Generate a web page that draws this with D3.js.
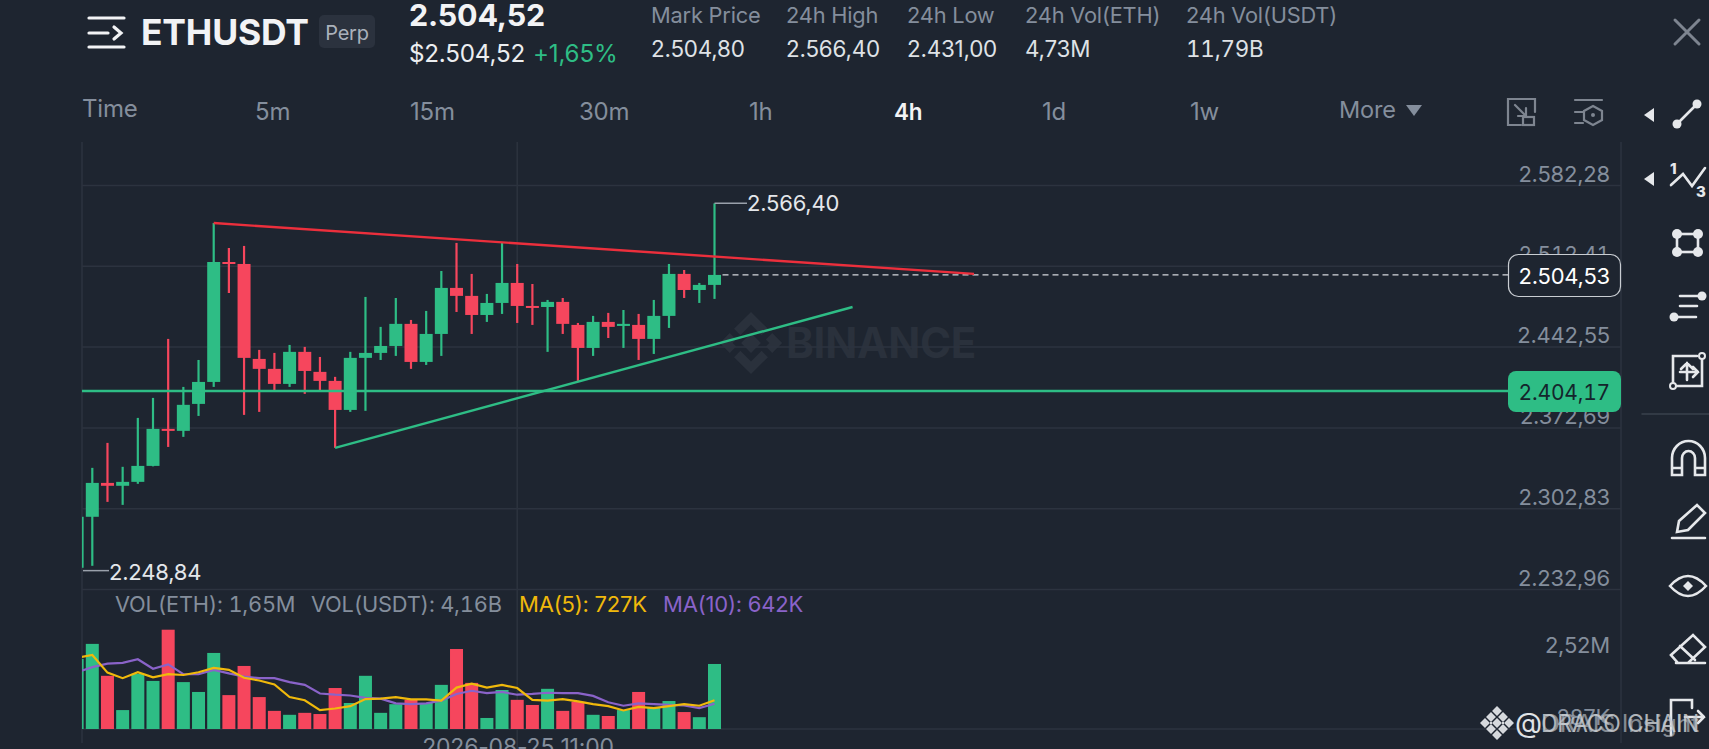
<!DOCTYPE html>
<html>
<head>
<meta charset="utf-8">
<script src="https://cdn.jsdelivr.net/npm/d3@7"></script>
<style>
  html, body { margin: 0; padding: 0; background: #1e2530; overflow: hidden; }
  svg { display: block; font-family: Inter, "Noto Sans", sans-serif; }
  text { letter-spacing: -0.2px; }
  .tn { font-variant-numeric: tabular-nums; }
</style>
</head>
<body>
<div id="container"></div>
<script>
const width = 1709,
  height = 749,
  bg = "#1e2530",
  green = "#2ebd85",
  red = "#f6465d",
  grey = "#848e9c",
  light = "#e4e7eb",
  gridColor = "#2c333f",
  left = 82,
  right = 1621;

// candles, index -1 is the one cut off by the left edge
const candleIdx = d3.range(-1, 42);
const opens = [2251.3, 2295.4, 2324.7, 2322.2, 2325.6, 2339.4, 2371.4, 2369.7, 2393.0, 2412.0, 2515.7, 2514.0, 2431.9, 2423.3, 2410.3, 2438.0, 2420.7, 2412.9, 2387.8, 2432.8, 2437.1, 2443.1, 2462.2, 2429.3, 2453.5, 2493.3, 2486.4, 2469.9, 2480.3, 2497.6, 2477.7, 2476.8, 2481.2, 2461.3, 2441.4, 2463.9, 2460.4, 2461.3, 2449.2, 2469.1, 2505.4, 2491.5, 2495.9];
const highs = [2296.0, 2337.7, 2359.3, 2338.6, 2380.9, 2398.2, 2449.2, 2407.7, 2431.0, 2549.4, 2527.8, 2529.6, 2439.7, 2437.1, 2444.0, 2442.3, 2433.6, 2416.4, 2438.0, 2485.5, 2459.6, 2484.6, 2465.6, 2473.4, 2507.9, 2532.2, 2505.4, 2488.1, 2532.2, 2514.0, 2496.7, 2482.9, 2484.6, 2463.0, 2469.1, 2471.7, 2474.2, 2470.8, 2482.9, 2514.0, 2508.8, 2497.6, 2566.4];
const lows = [2250.0, 2253.0, 2308.3, 2305.7, 2323.9, 2339.0, 2355.8, 2364.5, 2382.6, 2407.7, 2488.9, 2383.5, 2386.1, 2404.2, 2407.7, 2401.7, 2404.2, 2355.0, 2386.1, 2387.0, 2431.0, 2434.5, 2423.3, 2426.7, 2434.5, 2472.5, 2453.5, 2463.9, 2470.8, 2463.0, 2461.3, 2438.0, 2453.5, 2412.9, 2434.5, 2450.0, 2441.4, 2431.0, 2436.2, 2458.7, 2484.6, 2480.3, 2483.8];
const closes = [2295.4, 2324.7, 2322.2, 2325.6, 2339.4, 2371.4, 2369.7, 2392.2, 2412.0, 2515.7, 2514.0, 2432.8, 2423.3, 2410.3, 2438.0, 2421.5, 2412.9, 2387.8, 2432.8, 2437.1, 2443.1, 2462.2, 2429.3, 2453.5, 2493.3, 2486.4, 2469.9, 2480.3, 2497.6, 2477.7, 2476.0, 2481.2, 2462.2, 2441.4, 2463.9, 2459.6, 2462.2, 2449.2, 2469.1, 2505.4, 2491.5, 2495.9, 2504.53];

// volume in millions of ETH
const volumes = [1.78, 2.16, 1.35, 0.48, 1.40, 1.22, 2.52, 1.19, 0.94, 1.93, 0.86, 1.60, 0.81, 0.46, 0.36, 0.41, 0.38, 1.04, 0.66, 1.35, 0.41, 0.63, 0.74, 0.66, 1.12, 2.03, 1.17, 0.28, 0.99, 0.74, 0.61, 1.02, 0.46, 0.69, 0.36, 0.33, 0.48, 0.94, 0.56, 0.71, 0.43, 0.30, 1.65];
const ma5 = [1.81, 1.88, 1.43, 1.29, 1.44, 1.31, 1.39, 1.37, 1.44, 1.55, 1.50, 1.30, 1.23, 1.13, 0.81, 0.73, 0.48, 0.52, 0.58, 0.76, 0.77, 0.81, 0.75, 0.75, 0.72, 1.05, 1.15, 1.05, 1.12, 1.04, 0.74, 0.72, 0.76, 0.70, 0.63, 0.58, 0.47, 0.56, 0.53, 0.58, 0.63, 0.59, 0.73];
const ma10 = [1.44, 1.57, 1.66, 1.68, 1.77, 1.53, 1.64, 1.39, 1.39, 1.50, 1.41, 1.33, 1.29, 1.29, 1.19, 1.12, 0.90, 0.87, 0.85, 0.79, 0.77, 0.65, 0.63, 0.65, 0.72, 0.89, 0.97, 0.91, 0.94, 0.87, 0.89, 0.92, 0.91, 0.91, 0.84, 0.68, 0.59, 0.65, 0.63, 0.61, 0.60, 0.53, 0.64];

const priceTicks = [2582.28, 2512.41, 2442.55, 2372.69, 2302.83, 2232.96];
const priceLabels = ["2.582,28", "2.512,41", "2.442,55", "2.372,69", "2.302,83", "2.232,96"];

// hand drawn lines, [candle index, price]
const redTrend = [[8, 2549.4], [58.1, 2505.4]];
const greenTrend = [[16, 2355.0], [50.1, 2476.8]];
const supportPrice = 2404.17;
const lastPrice = 2504.53;
const highPrice = 2566.40;
const lowPrice = 2248.84;
const timeIdx = 28;

const statHeads = ["Mark Price", "24h High", "24h Low", "24h Vol(ETH)", "24h Vol(USDT)"];
const statValues = ["2.504,80", "2.566,40", "2.431,00", "4,73M", "11,79B"];
const intervals = ["5m", "15m", "30m", "1h", "4h", "1d", "1w"];

const xScale = d3.scaleLinear().domain([0, 41]).range([92.3, 714.5]);
const yScale = d3.scaleLinear().domain([priceTicks[0], priceTicks[5]]).range([185, 589]);
const volScale = d3.scaleLinear().domain([0, 2.52]).range([729, 629.7]);
const bodyW = 13;

const svg = d3.select("#container").append("svg")
  .attr("width", width)
  .attr("height", height)
  .style("background", bg);

function label(g, str, x, y, size, color, opts) {
  opts = opts || {};
  return g.append("text")
    .attr("class", opts.tn ? "tn" : null)
    .attr("x", x).attr("y", y)
    .attr("font-size", size)
    .attr("fill", color)
    .attr("font-weight", opts.weight || 400)
    .attr("text-anchor", opts.anchor || "start")
    .text(str);
}

svg.append("clipPath").attr("id", "plot")
  .append("rect").attr("x", left).attr("y", 142).attr("width", right - left).attr("height", height - 142);

/* ---- watermark ---- */
const mark = svg.append("g").attr("fill", "#2a313c");
const logoAt = [751, 343];
mark.append("g").attr("transform", `translate(${logoAt[0]},${logoAt[1]}) rotate(45)`)
  .selectAll("path")
  .data(["M-22 -22H2V-13H-13V2H-22Z", "M22 22H-2V13H13V-2H22Z", "M-7 -7H7V7H-7Z", "M8 -22H22V-8H13V-13H8Z", "M-8 22H-22V8H-13V13H-8Z"])
  .join("path").attr("d", d => d);
label(mark, "BINANCE", 786, 358, 42, "#2a313c", {weight: 700});

/* ---- grid and axes ---- */
const priceAxis = d3.axisLeft(yScale)
  .tickValues(priceTicks)
  .tickFormat((d, i) => priceLabels[i])
  .tickSize(right - left);
const axisG = svg.append("g")
  .attr("transform", `translate(${right},0)`)
  .call(priceAxis);
axisG.select(".domain").remove();
axisG.selectAll("line").attr("stroke", gridColor).attr("stroke-width", 1.5);
axisG.selectAll("text")
  .attr("x", -11).attr("dy", "-4px")
  .attr("fill", grey)
  .style("font-family", "Inter")
  .attr("font-size", 22);
axisG.selectAll("text")
  .filter((d, i) => priceLabels[i].includes("1"))
  .attr("class", "tn")
  .attr("font-size", 21);

svg.append("g").attr("stroke", gridColor).attr("stroke-width", 1.5)
  .selectAll("line")
  .data([left, xScale(timeIdx), right])
  .join("line")
  .attr("x1", d => d).attr("x2", d => d)
  .attr("y1", 142).attr("y2", (d, i) => i === 1 ? height : 743);
svg.append("line")
  .attr("x1", left).attr("x2", right)
  .attr("y1", volScale(0)).attr("y2", volScale(0))
  .attr("stroke", gridColor).attr("stroke-width", 1.5);

/* ---- candles ---- */
const plot = svg.append("g").attr("clip-path", "url(#plot)");
const candle = i => closes[i] >= opens[i] ? green : red;
const candles = plot.selectAll("g.candle")
  .data(candleIdx)
  .join("g")
  .attr("class", "candle");
candles.append("line")
  .attr("x1", d => xScale(d)).attr("x2", d => xScale(d))
  .attr("y1", (d, i) => yScale(highs[i]))
  .attr("y2", (d, i) => yScale(lows[i]))
  .attr("stroke", (d, i) => candle(i))
  .attr("stroke-width", 2.2);
candles.append("rect")
  .attr("x", d => xScale(d) - bodyW / 2)
  .attr("width", bodyW)
  .attr("y", (d, i) => yScale(Math.max(opens[i], closes[i])))
  .attr("height", (d, i) => Math.max(2, Math.abs(yScale(opens[i]) - yScale(closes[i]))))
  .attr("fill", (d, i) => candle(i));

/* ---- volume ---- */
plot.selectAll("rect.vol")
  .data(candleIdx)
  .join("rect")
  .attr("class", "vol")
  .attr("x", d => xScale(d) - bodyW / 2)
  .attr("width", bodyW)
  .attr("y", (d, i) => volScale(volumes[i]))
  .attr("height", (d, i) => volScale(0) - volScale(volumes[i]))
  .attr("fill", (d, i) => candle(i));

const maLine = d3.line().x((d, i) => xScale(candleIdx[i])).y(d => volScale(d));
plot.append("path").attr("d", maLine(ma10)).attr("fill", "none").attr("stroke", "#8a63c9").attr("stroke-width", 2.2);
plot.append("path").attr("d", maLine(ma5)).attr("fill", "none").attr("stroke", "#f0b90b").attr("stroke-width", 2.2);

/* ---- drawings ---- */
const trend = d3.line().x(d => xScale(d[0])).y(d => yScale(d[1]));
svg.append("path").attr("d", trend(greenTrend)).attr("stroke", green).attr("stroke-width", 2.4).attr("fill", "none");
svg.append("line")
  .attr("x1", left).attr("x2", 1508)
  .attr("y1", yScale(supportPrice)).attr("y2", yScale(supportPrice))
  .attr("stroke", green).attr("stroke-width", 2.4);
svg.append("line")
  .attr("x1", xScale(41) + 8).attr("x2", 1508)
  .attr("y1", yScale(lastPrice)).attr("y2", yScale(lastPrice))
  .attr("stroke", "#d5d8dc").attr("stroke-width", 1.3)
  .attr("stroke-dasharray", "6 4");
svg.append("path").attr("d", trend(redTrend)).attr("stroke", "#ec2f3c").attr("stroke-width", 2.4).attr("fill", "none");

/* ---- high and low tags ---- */
const tags = svg.append("g");
tags.append("line").attr("stroke", "#9aa1ab").attr("stroke-width", 1.5)
  .attr("x1", xScale(41)).attr("x2", 747)
  .attr("y1", yScale(highPrice)).attr("y2", yScale(highPrice));
label(tags, "2.566,40", 747, yScale(highPrice) + 8, 22, light);
tags.append("line").attr("stroke", "#9aa1ab").attr("stroke-width", 1.5)
  .attr("x1", left + 1).attr("x2", 109)
  .attr("y1", yScale(lowPrice)).attr("y2", yScale(lowPrice));
label(tags, "2.248,84", 109, yScale(lowPrice) + 9, 22, light);

/* ---- price tags on the axis ---- */
svg.append("rect").attr("x", 1508.5).attr("y", 254.5).attr("width", 112).attr("height", 42).attr("rx", 10)
  .attr("fill", bg).attr("stroke", "#c9cdd2").attr("stroke-width", 1.2);
label(svg, "2.504,53", 1610, 284, 22, "#fff", {anchor: "end"});
svg.append("rect").attr("x", 1508).attr("y", 371).attr("width", 113).attr("height", 41).attr("rx", 8).attr("fill", green);
label(svg, "2.404,17", 1610, 400, 21, "#14252c", {anchor: "end", tn: true});

/* ---- volume legend and labels ---- */
const legend = svg.append("g");
label(legend, "VOL(ETH): 1,65M", 115, 612, 21.8, grey, {tn: true});
label(legend, "VOL(USDT): 4,16B", 311, 612, 21.8, grey, {tn: true});
label(legend, "MA(5): 727K", 519, 612, 22, "#f0b90b");
label(legend, "MA(10): 642K", 663, 612, 22, "#8a63c9");
label(legend, "2,52M", 1610, 653, 22, grey, {anchor: "end"});
label(legend, "287K", 1610, 725, 22, grey, {anchor: "end"});
label(legend, "2026-08-25 11:00", 518, 755, 23, grey, {anchor: "middle"});

/* ---- header ---- */
const head = svg.append("g");
label(head, "ETHUSDT", 141, 45, 35.5, "#f2f3f5", {weight: 700});
head.append("rect").attr("x", 319).attr("y", 15).attr("width", 56).attr("height", 33).attr("rx", 5).attr("fill", "#2b323e");
label(head, "Perp", 347, 40, 20, "#aab1bb", {anchor: "middle"});
label(head, "2.504,52", 409, 26, 30.5, "#f2f3f5", {weight: 700});
label(head, "$2.504,52", 409, 62, 24.2, "#eceef0");
label(head, "+1,65%", 533, 62, 24.2, green);

const statX = [651, 786, 907, 1025, 1186];
statHeads.forEach((s, i) => {
  label(head, s, statX[i], 23, 21.8, grey);
  label(head, statValues[i], statX[i], 57, 22.4, "#dfe2e6", {tn: statValues[i].startsWith("11")});
});

label(head, "Time", 82, 117, 24, grey);
const intervalX = [255, 410, 579, 749, 894, 1042, 1190];
intervals.forEach((s, i) => {
  label(head, s, intervalX[i], 120, s === "4h" ? 22.5 : 24, s === "4h" ? "#f2f3f5" : grey, {weight: s === "4h" ? 600 : 400});
});
label(head, "More", 1339, 118, 23.5, grey);
head.append("path").attr("d", "M1406 105H1422L1414 116Z").attr("fill", grey);

/* ---- icons ---- */
const icons = svg.append("g").attr("fill", "none").attr("stroke-linecap", "round");
const ic = "#e6e8eb";

// menu
icons.append("path").attr("stroke", "#f2f3f5").attr("stroke-width", 3.2)
  .attr("d", "M89 18H124M89 33H108M114 27L121 33L114 39M89 47H124");
// close
icons.append("path").attr("stroke", "#7e8590").attr("stroke-width", 3).attr("d", "M1675 20L1699 44M1699 20L1675 44");
// panel switches
icons.append("path").attr("stroke", "#7e8590").attr("stroke-width", 2.2)
  .attr("d", "M1521 125H1508V99H1535V112M1515 105L1526 116M1526 108V116H1518");
icons.append("rect").attr("x", 1523).attr("y", 117).attr("width", 11).attr("height", 8).attr("stroke", "#7e8590").attr("stroke-width", 2.2);
icons.append("path").attr("stroke", "#7e8590").attr("stroke-width", 2.2)
  .attr("d", "M1575 100H1602M1575 112H1583M1575 123H1583M1593 106L1602 111V120L1593 125L1584 120V111Z");
icons.append("circle").attr("cx", 1593).attr("cy", 115).attr("r", 2).attr("fill", "#7e8590");

// drawing toolbar
const tb = icons.append("g").attr("stroke", ic).attr("stroke-width", 2.6);
tb.append("path").attr("fill", ic).attr("stroke", "none").attr("d", "M1654 108V122L1644 115Z");
tb.append("path").attr("fill", ic).attr("stroke", "none").attr("d", "M1654 172V186L1644 179Z");
tb.append("path").attr("d", "M1677 124L1697 104");
tb.selectAll("circle.a").data([[1677, 124], [1697, 104]]).join("circle").attr("class", "a")
  .attr("cx", d => d[0]).attr("cy", d => d[1]).attr("r", 4.5).attr("fill", ic).attr("stroke", "none");
tb.append("path").attr("d", "M1671 185L1683 174L1692 186L1705 168");
label(tb, "1", 1670, 174, 15, ic, {weight: 800}).attr("stroke", "none");
label(tb, "3", 1696, 197, 15, ic, {weight: 800}).attr("stroke", "none");
tb.append("rect").attr("x", 1677).attr("y", 234).attr("width", 21).attr("height", 18);
tb.selectAll("circle.b").data([[1677, 234], [1698, 234], [1677, 252], [1698, 252]]).join("circle").attr("class", "b")
  .attr("cx", d => d[0]).attr("cy", d => d[1]).attr("r", 5).attr("fill", ic).attr("stroke", "none");
tb.append("path").attr("d", "M1680 296H1698M1680 306H1697M1678 317H1696");
tb.selectAll("circle.c").data([[1702, 296], [1674, 317]]).join("circle").attr("class", "c")
  .attr("cx", d => d[0]).attr("cy", d => d[1]).attr("r", 4.5).attr("fill", ic).attr("stroke", "none");
tb.append("path").attr("d", "M1697 356H1673V382M1677 386H1702V360M1687 380V363M1681 369L1687 363L1693 369M1680 372H1698M1693 367L1698 372L1693 377");
tb.selectAll("circle.d").data([[1702, 356], [1673, 386]]).join("circle").attr("class", "d")
  .attr("cx", d => d[0]).attr("cy", d => d[1]).attr("r", 3).attr("stroke-width", 2);
icons.append("line").attr("x1", 1642).attr("x2", 1709).attr("y1", 414).attr("y2", 414).attr("stroke", "#3a414c").attr("stroke-width", 1.5);
// magnet
tb.append("path").attr("d", "M1672 475V458A16.5 17 0 0 1 1705 458V475H1695V458A6.5 7 0 0 0 1682 458V475ZM1672 468H1682M1695 468H1705");
// pencil
tb.append("path").attr("d", "M1677 532L1679 521L1697 505L1705 513L1688 530ZM1672 538H1705");
// eye
tb.append("path").attr("d", "M1670 586Q1688 566 1706 586Q1688 606 1670 586Z");
tb.append("path").attr("fill", ic).attr("stroke", "none").attr("d", "M1688 581L1693 586L1688 591L1683 586Z");
// eraser
tb.append("path").attr("d", "M1671 655L1693 635L1705 647L1688 663H1678ZM1680 646L1695 660M1676 663H1705");
// share, mostly behind the stamp
tb.append("path").attr("d", "M1671 735V700H1692V708M1685 717H1704M1698 711L1704 717L1698 723");

/* ---- stamp in the corner ---- */
const stamp = svg.append("g").attr("fill", "#d6d9dd");
stamp.append("g").attr("transform", "translate(1497,723) rotate(45)")
  .selectAll("rect")
  .data([[-12, -12], [-3.5, -12], [5, -12], [-12, -3.5], [-3.5, -3.5], [5, -3.5], [-12, 5], [-3.5, 5], [5, 5]])
  .join("rect")
  .attr("x", d => d[0]).attr("y", d => d[1]).attr("width", 7).attr("height", 7);
stamp.append("path").attr("d", "M1482 723H1512").attr("stroke", "#d6d9dd").attr("stroke-width", 2).attr("stroke-dasharray", "2 2");
label(stamp, "@", 1515, 733, 28, "#e0e3e6");
label(stamp, "DRACO CHAIN", 1541, 732, 24, "#c9cdd2")
  .attr("textLength", 158).attr("lengthAdjust", "spacingAndGlyphs").attr("opacity", 0.85);
label(stamp, "ORAIS Insight", 1541, 732, 24, "#c9cdd2")
  .attr("textLength", 158).attr("lengthAdjust", "spacingAndGlyphs").attr("opacity", 0.6);
</script>
</body>
</html>
